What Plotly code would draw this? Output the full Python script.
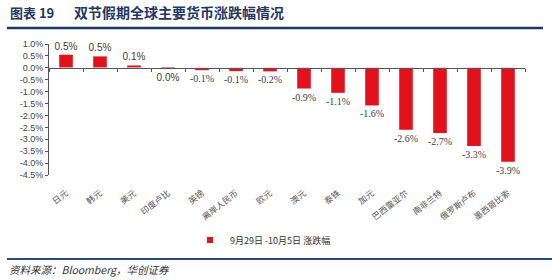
import plotly.graph_objects as go

categories = ["日元", "韩元", "美元", "印度卢比", "英镑", "离岸人民币", "欧元",
              "澳元", "泰铢", "加元", "巴西雷亚尔", "南非兰特", "俄罗斯卢布", "墨西哥比索"]
values = [0.55, 0.48, 0.10, -0.05, -0.10, -0.14, -0.15,
          -0.87, -1.05, -1.58, -2.60, -2.74, -3.28, -3.94]
labels = ["0.5%", "0.5%", "0.1%", "0.0%", "-0.1%", "-0.1%", "-0.2%",
          "-0.9%", "-1.1%", "-1.6%", "-2.6%", "-2.7%", "-3.3%", "-3.9%"]
series_name = "9月29日 -10月5日 涨跌幅"
yticks = [1.0, 0.5, 0.0, -0.5, -1.0, -1.5, -2.0, -2.5, -3.0, -3.5, -4.0, -4.5]

W, H = 552, 280
ML, MR, MT, MB = 49, 27, 44, 105
PW, PH = W - ML - MR, H - MT - MB
YMIN, YMAX = -4.5, 1.0
RED = "#E3111B"


def px(x):
    return (x - ML) / PW


def py(y):
    return (H - MB - y) / PH


label_fonts = ["Liberation Sans"] * 4 + ["Liberation Serif"] * (len(values) - 4)

fig = go.Figure()
fig.add_trace(go.Bar(
    x=categories, y=values, name=series_name, showlegend=False,
    marker=dict(color=RED, line=dict(width=0)),
    text=labels, textposition="outside", constraintext="none",
    textfont=dict(size=10, color="#404040", family=label_fonts),
    cliponaxis=False,
))
# legend entry with a small square marker
fig.add_trace(go.Scatter(x=[None], y=[None], mode="markers", name=series_name,
                         marker=dict(symbol="square", size=6, color=RED)))
# invisible trace to carry the zero-line category axis
fig.add_trace(go.Bar(x=categories, y=[0] * len(categories), xaxis="x2",
                     showlegend=False, hoverinfo="skip", marker=dict(color="rgba(0,0,0,0)")))

fig.update_layout(
    width=W, height=H,
    margin=dict(l=ML, r=MR, t=MT, b=MB),
    paper_bgcolor="white", plot_bgcolor="white",
    bargap=0.6, barmode="overlay",
    showlegend=True,
    legend=dict(orientation="h", x=px(263), xanchor="center", y=py(240), yanchor="middle",
                font=dict(size=9, family="Noto Sans CJK SC", color="#333"),
                itemwidth=30, bgcolor="rgba(0,0,0,0)"),
    xaxis=dict(showline=False, ticks="outside", ticklen=9, tickcolor="rgba(0,0,0,0)",
               tickangle=-38,
               tickfont=dict(size=8.5, family="Noto Sans CJK SC", color="#555"),
               showgrid=False, zeroline=False),
    xaxis2=dict(matches="x", overlaying="x", anchor="free",
                position=(0 - YMIN) / (YMAX - YMIN),
                showline=True, linecolor="#555", linewidth=1,
                ticks="outside", ticklen=3, tickcolor="#555", tickson="boundaries",
                showticklabels=False, showgrid=False, zeroline=False),
    yaxis=dict(range=[YMIN, YMAX], tickvals=yticks,
               ticktext=[f"{v:.1f}%" for v in yticks],
               showline=True, linecolor="#555", linewidth=1,
               ticks="outside", ticklen=3, tickcolor="#555",
               tickfont=dict(size=9, family="Liberation Sans", color="#444"),
               showgrid=False, zeroline=False),
    font=dict(family="Noto Sans CJK SC"),
)

fig.add_annotation(text="<b>图表 19</b>", xref="paper", yref="paper",
                   x=px(8), y=py(12), xanchor="left", yanchor="middle", showarrow=False,
                   font=dict(size=13, color="#1F3864", family="Noto Sans CJK SC"))
fig.add_annotation(text="<b>双节假期全球主要货币涨跌幅情况</b>", xref="paper", yref="paper",
                   x=px(72), y=py(12), xanchor="left", yanchor="middle", showarrow=False,
                   font=dict(size=14, color="#1F3864", family="Noto Sans CJK SC"))
fig.add_annotation(text="<i>资料来源：Bloomberg，华创证券</i>", xref="paper", yref="paper",
                   x=px(7), y=py(269), xanchor="left", yanchor="middle", showarrow=False,
                   font=dict(size=10.5, color="#333", family="Noto Sans CJK SC"))

fig.add_shape(type="line", xref="paper", yref="paper", x0=px(7), x1=px(543),
              y0=py(28), y1=py(28), line=dict(color="#1F3864", width=2.5))
fig.add_shape(type="line", xref="paper", yref="paper", x0=px(7), x1=px(552),
              y0=py(259), y1=py(259), line=dict(color="#2E4A85", width=2))

fig.write_html("out.html")
